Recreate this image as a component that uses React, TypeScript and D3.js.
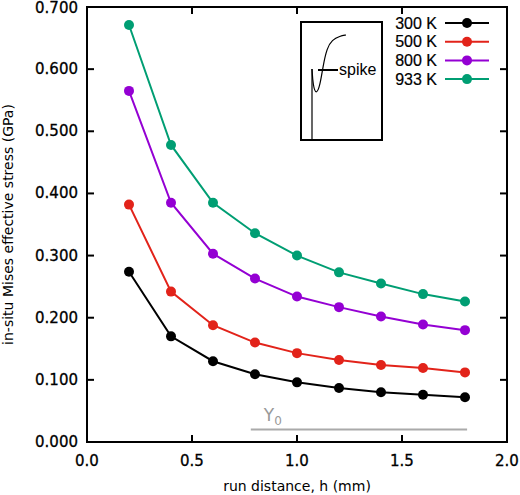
import React from 'react';
import * as d3 from 'd3';

// run distance h (mm)
const distances = [0.2, 0.4, 0.6, 0.8, 1.0, 1.2, 1.4, 1.6, 1.8];

// in-situ Mises effective stress (GPa) per temperature
const stress300 = [0.274, 0.170, 0.130, 0.109, 0.096, 0.087, 0.080, 0.076, 0.072];
const stress500 = [0.382, 0.242, 0.188, 0.160, 0.143, 0.132, 0.124, 0.119, 0.112];
const stress800 = [0.565, 0.385, 0.303, 0.263, 0.234, 0.217, 0.202, 0.189, 0.180];
const stress933 = [0.671, 0.478, 0.385, 0.336, 0.300, 0.273, 0.255, 0.238, 0.226];

const seriesNames = ['300 K', '500 K', '800 K', '933 K'];
const seriesColors = ['#000000', '#e2231a', '#9400d3', '#009e73'];
const seriesValues = [stress300, stress500, stress800, stress933];

const xTicks = [0, 0.5, 1.0, 1.5, 2.0];
const yTicks = [0, 0.1, 0.2, 0.3, 0.4, 0.5, 0.6, 0.7];

// yield level line Y0
const y0Range = [0.78, 1.81];
const y0Value = 0.02;

const W = 520;
const H = 495;
const margin = { top: 7, right: 13, bottom: 53, left: 87 };

const App = () => {
  const x = d3.scaleLinear().domain([0, 2]).range([margin.left, W - margin.right]);
  const y = d3.scaleLinear().domain([0, 0.7]).range([H - margin.bottom, margin.top]);
  const line = d3.line<number>()
    .x((_, i) => x(distances[i]))
    .y(d => y(d));

  const x0 = x.range()[0], x1 = x.range()[1];
  const yb = y.range()[0], yt = y.range()[1];
  const tick = 7;
  const font = 'DejaVu Sans, sans-serif';
  const sans = 'Liberation Sans, Arial, sans-serif';

  // inset sketch of a stress curve with the initial spike
  const inset = { x: 301, y: 22, w: 81, h: 118 };
  const sketch = d3.line().curve(d3.curveBasis)([
    [312, 69], [313, 85], [316, 95], [320, 86], [323, 66], [327, 48], [332, 40], [340, 36], [346, 35],
  ]);

  return (
    <svg width={W} height={H} style={{ position: 'absolute', left: 0, top: 0 }}>
      <rect width={W} height={H} fill="#fff" />
      {/* frame */}
      <rect x={x0} y={yt} width={x1 - x0} height={yb - yt} fill="none" stroke="#000" strokeWidth={2} />
      {/* ticks */}
      {xTicks.slice(1, -1).map(t => (
        <g key={'xt' + t}>
          <line x1={x(t)} x2={x(t)} y1={yb} y2={yb - tick} stroke="#000" strokeWidth={2} />
          <line x1={x(t)} x2={x(t)} y1={yt} y2={yt + tick} stroke="#000" strokeWidth={2} />
        </g>
      ))}
      {yTicks.slice(1, -1).map(t => (
        <g key={'yt' + t}>
          <line x1={x0} x2={x0 + tick} y1={y(t)} y2={y(t)} stroke="#000" strokeWidth={2} />
          <line x1={x1} x2={x1 - tick} y1={y(t)} y2={y(t)} stroke="#000" strokeWidth={2} />
        </g>
      ))}
      {xTicks.map(t => (
        <text key={'xl' + t} x={x(t)} y={466} textAnchor="middle" fontFamily={font} fontSize={15}
          stroke="#000" strokeWidth={0.3}>
          {d3.format('.1f')(t)}
        </text>
      ))}
      {yTicks.map(t => (
        <text key={'yl' + t} x={78} y={Math.max(y(t) + 5, 13)} textAnchor="end" fontFamily={font} fontSize={15}
          stroke="#000" strokeWidth={0.3}>
          {d3.format('.3f')(t)}
        </text>
      ))}
      <text x={(x0 + x1) / 2} y={491} textAnchor="middle" fontFamily={font} fontSize={14}>
        run distance, h (mm)
      </text>
      <text transform={`translate(13,${(yt + yb) / 2}) rotate(-90)`} textAnchor="middle" fontFamily={font} fontSize={14}>
        in-situ Mises effective stress (GPa)
      </text>

      {/* Y0 line */}
      <line x1={x(y0Range[0])} x2={x(y0Range[1])} y1={y(y0Value)} y2={y(y0Value)} stroke="#aaa" strokeWidth={2} />
      <text x={x(y0Range[0]) + 13} y={y(y0Value) - 9} fontFamily={font} fontSize={17} fill="#999">
        Y<tspan fontSize={12} dy={4}>0</tspan>
      </text>

      {/* data series */}
      {seriesValues.map((vals, s) => (
        <g key={seriesNames[s]}>
          <path d={line(vals) ?? ''} fill="none" stroke={seriesColors[s]} strokeWidth={2} />
          {vals.map((v, i) => (
            <circle key={i} cx={x(distances[i])} cy={y(v)} r={5} fill={seriesColors[s]} />
          ))}
        </g>
      ))}

      {/* inset */}
      <rect x={inset.x} y={inset.y} width={inset.w} height={inset.h} fill="#fff" stroke="#000" strokeWidth={2} />
      <line x1={312} x2={312} y1={inset.y + inset.h} y2={69} stroke="#000" strokeWidth={1.2} />
      <path d={sketch ?? ''} fill="none" stroke="#000" strokeWidth={1.2} />
      <line x1={318} x2={338} y1={70} y2={70} stroke="#000" strokeWidth={2} />
      <text x={339} y={75} fontFamily={sans} fontSize={16}>spike</text>

      {/* legend */}
      {seriesNames.map((n, s) => {
        const ly = 23 + s * 18.7;
        return (
          <g key={'lg' + n}>
            <text x={437} y={ly + 5.5} textAnchor="end" fontFamily={sans} fontSize={16}
              stroke="#000" strokeWidth={0.2}>{n}</text>
            <line x1={445} x2={489} y1={ly} y2={ly} stroke={seriesColors[s]} strokeWidth={2} />
            <circle cx={467} cy={ly} r={5} fill={seriesColors[s]} />
          </g>
        );
      })}
    </svg>
  );
};

export default App;
